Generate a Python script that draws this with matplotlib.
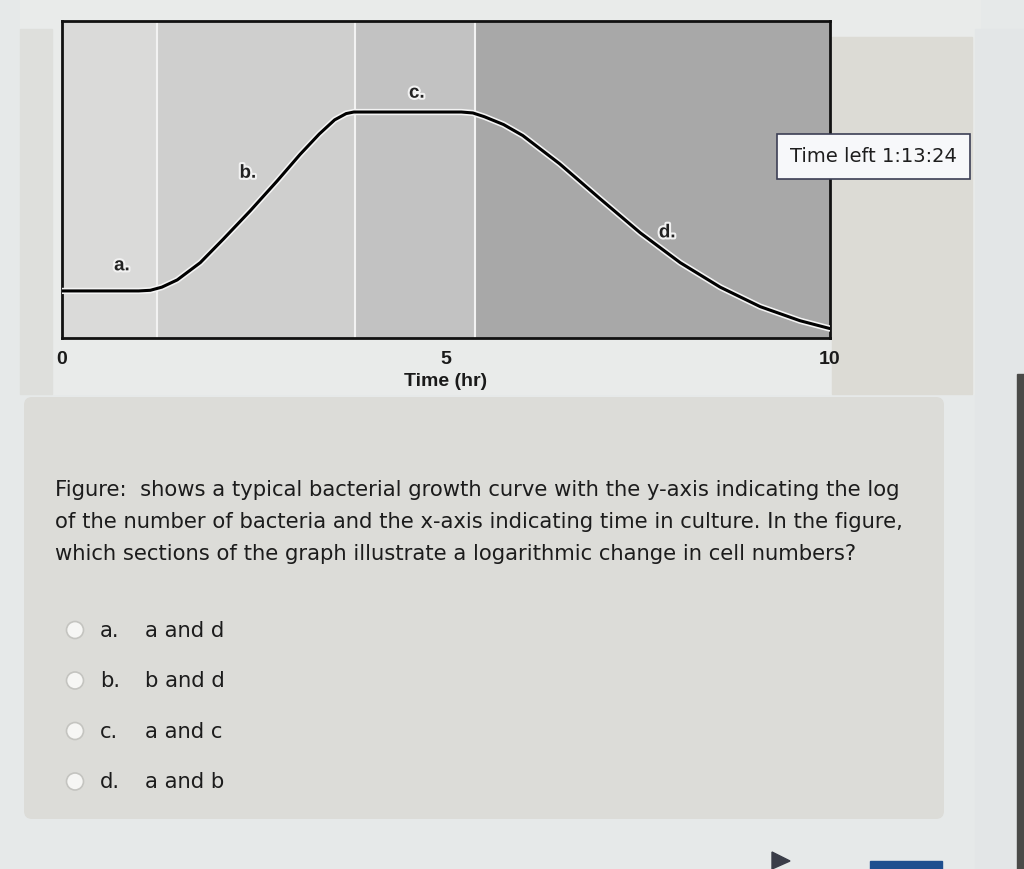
import matplotlib
matplotlib.use("Agg")
import matplotlib.pyplot as plt
from matplotlib.patches import Rectangle, FancyBboxPatch, Circle, Polygon
import matplotlib.patheffects as pe

# ---------------- data ----------------
phase_labels = ["a.", "b.", "c.", "d."]
phase_bounds = [0.0, 1.24, 3.82, 5.38, 10.0]
phase_colors = ["#dadad9", "#cfcfce", "#c2c2c2", "#a8a8a8"]
phase_label_x = [0.78, 2.42, 4.62, 7.88]
phase_label_y = [2.3, 5.25, 7.8, 3.35]

time_hr = [0.0, 0.5, 1.0, 1.15, 1.3, 1.5, 1.8, 2.1, 2.45, 2.8, 3.1, 3.35, 3.55,
           3.7, 3.8, 4.5, 5.2, 5.35, 5.5, 5.75, 6.0, 6.48, 7.0, 7.53, 8.05,
           8.57, 9.09, 9.61, 10.0]
log_n = [1.5, 1.5, 1.5, 1.52, 1.62, 1.85, 2.4, 3.15, 4.05, 5.0, 5.85, 6.5, 6.95,
         7.15, 7.2, 7.2, 7.2, 7.17, 7.05, 6.8, 6.45, 5.55, 4.45, 3.35, 2.4,
         1.62, 1.0, 0.55, 0.3]

x_ticks = [0, 5, 10]
x_label = "Time (hr)"
timer_text = "Time left 1:13:24"

question_lines = [
    "Figure:  shows a typical bacterial growth curve with the y-axis indicating the log",
    "of the number of bacteria and the x-axis indicating time in culture. In the figure,",
    "which sections of the graph illustrate a logarithmic change in cell numbers?",
]
option_letters = ["a.", "b.", "c.", "d."]
option_texts = ["a and d", "b and d", "a and c", "a and b"]

# ---------------- figure ----------------
W, H = 1024, 870
fig = plt.figure(figsize=(W / 100, H / 100), dpi=100)
fig.patch.set_facecolor("#e6e9e9")

bg = fig.add_axes([0, 0, 1, 1])
bg.set_xlim(0, W)
bg.set_ylim(H, 0)
bg.axis("off")

# background panels
bg.add_patch(Rectangle((20, 0), 960, 395, color="#e9ebea", zorder=0))
bg.add_patch(Rectangle((20, 30), 32, 365, color="#dedfdc", zorder=0))
bg.add_patch(Rectangle((832, 38), 140, 357, color="#dcdbd5", zorder=0))
bg.add_patch(Rectangle((975, 30), 49, 840, color="#e3e6e7", zorder=0))
bg.add_patch(FancyBboxPatch((24, 398), 920, 422, boxstyle="round,pad=0,rounding_size=8",
                            facecolor="#dcdcd8", edgecolor="none", zorder=0))
bg.add_patch(Rectangle((1017, 375), 7, 495, color="#4a4a48", zorder=1))
bg.add_patch(Rectangle((870, 862), 72, 8, color="#1f4f8f", zorder=1))
bg.add_patch(Polygon([(772, 853), (790, 862), (772, 870)], closed=True,
                     color="#3a3d48", zorder=1))

# ---------------- chart ----------------
left, right, top, bottom = 62, 830, 22, 339
ax = fig.add_axes([left / W, 1 - bottom / H, (right - left) / W, (bottom - top) / H])
ax.set_xlim(0, 10)
ax.set_ylim(0, 10.1)
for i in range(4):
    ax.axvspan(phase_bounds[i], phase_bounds[i + 1], color=phase_colors[i], zorder=0, lw=0)
for b in phase_bounds[1:-1]:
    ax.axvline(b, color="#f2f2f2", lw=1.5, zorder=1)
ax.plot(time_hr, log_n, color="black", lw=2.2, zorder=3, solid_capstyle="round",
        path_effects=[pe.Stroke(linewidth=4.5, foreground="#f4f4f4"), pe.Normal()])
for lab, lx, ly in zip(phase_labels, phase_label_x, phase_label_y):
    ax.text(lx, ly, lab, ha="center", va="center", fontsize=13.5, fontweight="bold",
            family="Liberation Sans", color="#222222",
            path_effects=[pe.withStroke(linewidth=3, foreground="#f2f2f2")])
for s in ax.spines.values():
    s.set_linewidth(2)
    s.set_color("#111111")
ax.set_xticks(x_ticks)
ax.set_xticklabels([str(t) for t in x_ticks], fontsize=14, fontweight="bold",
                   family="Liberation Sans", color="#1a1a1a")
ax.tick_params(axis="x", length=0, pad=9)
ax.set_yticks([])
ax.set_xlabel(x_label, fontsize=14, fontweight="bold", family="Liberation Sans",
              color="#1a1a1a", labelpad=3)

# ---------------- overlay ----------------
ov = fig.add_axes([0, 0, 1, 1])
ov.set_xlim(0, W)
ov.set_ylim(H, 0)
ov.axis("off")
ov.patch.set_alpha(0)

ov.add_patch(Rectangle((777, 135), 193, 45, facecolor="#f7f8fa", edgecolor="#3c3f55",
                       lw=1.2, zorder=5))
ov.text(873, 156, timer_text, ha="center", va="center", fontsize=14,
        family="DejaVu Sans", color="#1e1e1e", zorder=6)

for i, line in enumerate(question_lines):
    ov.text(55, 490 + i * 32, line, ha="left", va="center", fontsize=15.2,
            family="DejaVu Sans", color="#1c1c1c")

for i, (l, t) in enumerate(zip(option_letters, option_texts)):
    y = 631 + i * 50.5
    ov.add_patch(Circle((75, y), 8.5, facecolor="#f6f6f4", edgecolor="#c4c4c0",
                        lw=1.2, zorder=2))
    ov.text(100, y, l, ha="left", va="center", fontsize=15.2, family="DejaVu Sans",
            color="#1c1c1c")
    ov.text(145, y, t, ha="left", va="center", fontsize=15.2, family="DejaVu Sans",
            color="#1c1c1c")

fig.savefig("out.png", dpi=100)
